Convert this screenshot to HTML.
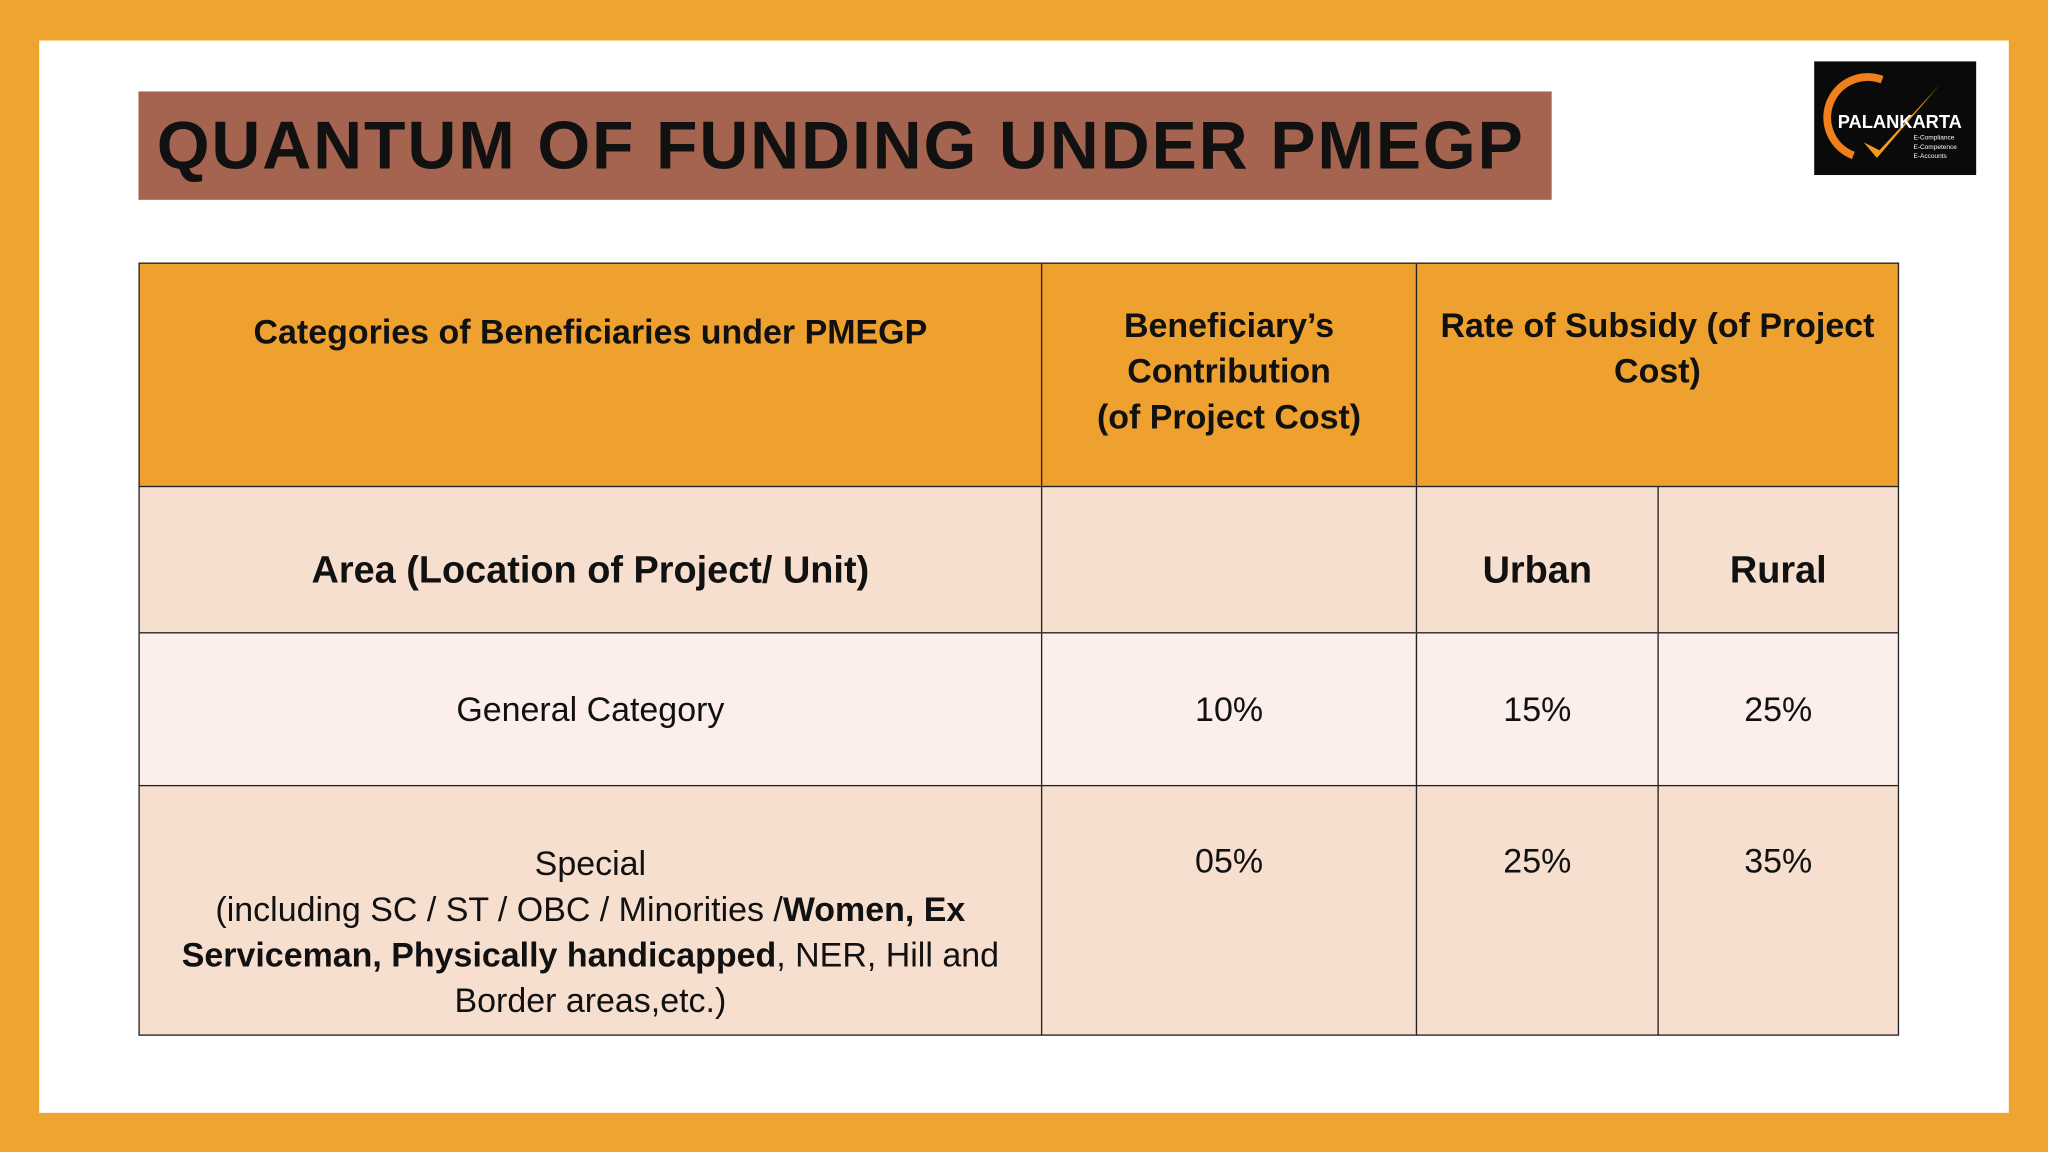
<!DOCTYPE html>
<html><head><meta charset="utf-8"><style>
html,body{margin:0;padding:0;}
body{width:2048px;height:1152px;overflow:hidden;background:#EEA42F;}
#s{position:absolute;left:0;top:0;width:1568px;height:882px;transform:scale(1.306122);transform-origin:0 0;font-family:"Liberation Sans",sans-serif;}
.abs{position:absolute;}
#white{left:30px;top:31px;width:1508px;height:821px;background:#fff;}
#title{left:106px;top:70px;width:1082px;height:83px;background:#A5644F;}
#title span{position:absolute;left:14px;top:12px;font-size:52px;font-weight:bold;color:#111;letter-spacing:1.4px;white-space:nowrap;}
.c{position:absolute;box-sizing:border-box;border:1px solid #222;display:flex;justify-content:center;text-align:center;color:#111;font-size:26px;line-height:35px;}
.h{background:#EFA12F;font-weight:bold;align-items:flex-start;padding-top:30px;}
.r2{background:#F7DFCF;font-weight:bold;font-size:29px;align-items:center;padding-top:18px;}
.r3{background:#FCEEEA;align-items:center;}
.r4{background:#F7DFCF;align-items:flex-start;padding-top:40px;}
#logo{left:1389px;top:47px;width:124px;height:87px;background:#0a0a0a;}
</style></head><body>
<div id="s">
<div class="abs" id="white"></div>
<div class="abs" id="title"><span>QUANTUM OF FUNDING UNDER PMEGP</span></div>
<div class="abs" id="logo">
<svg width="124" height="87" viewBox="0 0 124 87">
<path d="M30 72 A30 30 0 1 1 52 14" fill="none" stroke="#F07F1E" stroke-width="6"/>
<path d="M38 62 L48 74 L96 18 L50 68 Z" fill="#F29A1F"/>
<text x="18" y="51" font-family="Liberation Sans" font-weight="bold" font-size="14" fill="#fff">PALANKARTA</text>
<text x="76" y="60" font-family="Liberation Sans" font-size="5" fill="#fff">E-Compliance</text>
<text x="76" y="67" font-family="Liberation Sans" font-size="5" fill="#fff">E-Competence</text>
<text x="76" y="74" font-family="Liberation Sans" font-size="5" fill="#fff">E-Accounts</text>
</svg></div>

<div class="c h" style="left:106px;top:201px;width:692px;height:172px;padding-top:35px">Categories of Beneficiaries under PMEGP</div>
<div class="c h" style="left:797px;top:201px;width:288px;height:172px">Beneficiary’s<br>Contribution<br>(of Project Cost)</div>
<div class="c h" style="left:1084px;top:201px;width:370px;height:172px">Rate of Subsidy (of Project<br>Cost)</div>

<div class="c r2" style="left:106px;top:372px;width:692px;height:113px">Area (Location of Project/ Unit)</div>
<div class="c r2" style="left:797px;top:372px;width:288px;height:113px"></div>
<div class="c r2" style="left:1084px;top:372px;width:186px;height:113px">Urban</div>
<div class="c r2" style="left:1269px;top:372px;width:185px;height:113px">Rural</div>

<div class="c r3" style="left:106px;top:484px;width:692px;height:118px">General Category</div>
<div class="c r3" style="left:797px;top:484px;width:288px;height:118px">10%</div>
<div class="c r3" style="left:1084px;top:484px;width:186px;height:118px">15%</div>
<div class="c r3" style="left:1269px;top:484px;width:185px;height:118px">25%</div>

<div class="c r4" style="left:106px;top:601px;width:692px;height:192px;padding-top:42px"><div>Special<br>(including SC / ST / OBC / Minorities /<b>Women, Ex Serviceman, Physically handicapped</b>, NER, Hill and Border areas,etc.)</div></div>
<div class="c r4" style="left:797px;top:601px;width:288px;height:192px">05%</div>
<div class="c r4" style="left:1084px;top:601px;width:186px;height:192px">25%</div>
<div class="c r4" style="left:1269px;top:601px;width:185px;height:192px">35%</div>
</div>
</body></html>
